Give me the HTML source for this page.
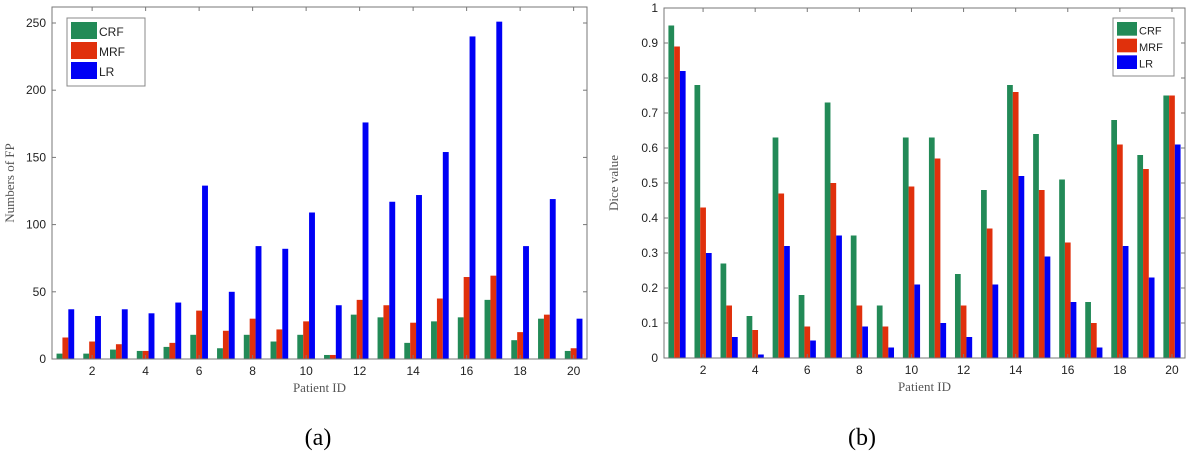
<!DOCTYPE html>
<html><head><meta charset="utf-8">
<style>
body{margin:0;background:#fff;}
svg{display:block;}
text{font-family:"Liberation Sans",sans-serif;}
</style></head>
<body>
<svg id="root" width="1200" height="451">
<text x="318" y="445" text-anchor="middle" font-size="24" style="font-family:'Liberation Serif',serif">(a)</text>
<text x="862" y="445" text-anchor="middle" font-size="24" style="font-family:'Liberation Serif',serif">(b)</text>
</svg>
<script>
const categories=[1,2,3,4,5,6,7,8,9,10,11,12,13,14,15,16,17,18,19,20];
const seriesNames=["CRF","MRF","LR"];
const fpCRF=[4,4,7,6,9,18,8,18,13,18,3,33,31,12,28,31,44,14,30,6];
const fpMRF=[16,13,11,6,12,36,21,30,22,28,3,44,40,27,45,61,62,20,33,8];
const fpLR=[37,32,37,34,42,129,50,84,82,109,40,176,117,122,154,240,251,84,119,30];
const diceCRF=[.95,.78,.27,.12,.63,.18,.73,.35,.15,.63,.63,.24,.48,.78,.64,.51,.16,.68,.58,.75];
const diceMRF=[.89,.43,.15,.08,.47,.09,.50,.15,.09,.49,.57,.15,.37,.76,.48,.33,.10,.61,.54,.75];
const diceLR=[.82,.30,.06,.01,.32,.05,.35,.09,.03,.21,.10,.06,.21,.52,.29,.16,.03,.32,.23,.61];
const fpTicks=[0,50,100,150,200,250];
const diceTicks=[0,0.1,0.2,0.3,0.4,0.5,0.6,0.7,0.8,0.9,1];
const xTicks=[2,4,6,8,10,12,14,16,18,20];
const colors=["#228a57","#e0300c","#0000f5"];
const NS="http://www.w3.org/2000/svg";
const root=document.getElementById('root');
function mk(tag,attrs,parent){const e=document.createElementNS(NS,tag);for(const k in attrs)e.setAttribute(k,attrs[k]);(parent||root).appendChild(e);return e;}
function chart(o){
  const g=mk('g',{});
  
  
  const X=v=>o.x0+(v-0.5)/20*(o.x1-o.x0);
  const Y=v=>o.y1-(v/o.ymax)*(o.y1-o.yTopVal);
  const bw=0.22;
  o.series.forEach((s,si)=>{
    s.forEach((v,i)=>{
      const c=categories[i]+(si-1)*bw;
      const r=mk('rect',{x:X(c-bw/2),y:Y(v),width:X(c+bw/2)-X(c-bw/2),height:Y(0)-Y(v),fill:colors[si]},g);
      
      
    });
  });
  const box=mk('rect',{x:o.x0,y:o.yTop,width:o.x1-o.x0,height:o.y1-o.yTop,fill:'none',stroke:'#777','stroke-width':1},g);
  
  
  o.yticks.forEach(t=>{
    mk('line',{x1:o.x0,x2:o.x0+4,y1:Y(t),y2:Y(t),stroke:'#777'},g);
    mk('line',{x1:o.x1,x2:o.x1-4,y1:Y(t),y2:Y(t),stroke:'#777'},g);
    const tx=mk('text',{x:o.x0-6,y:Y(t)+4,'text-anchor':'end','font-size':12,fill:'#222'},g);
    tx.textContent=String(t);
    
    
  });
  xTicks.forEach(t=>{
    mk('line',{x1:X(t),x2:X(t),y1:o.y1,y2:o.y1-4,stroke:'#777'},g);
    mk('line',{x1:X(t),x2:X(t),y1:o.yTop,y2:o.yTop+4,stroke:'#777'},g);
    const tx=mk('text',{x:X(t),y:o.y1+16,'text-anchor':'middle','font-size':12,fill:'#222'},g);
    tx.textContent=String(t);
    
    
  });
  const xl=mk('text',{x:(o.x0+o.x1)/2,y:o.y1+33,'text-anchor':'middle','font-size':13,fill:'#555',style:"font-family:'Liberation Serif',serif"},g);
  xl.textContent='Patient ID';
  
  
  const yl=mk('text',{x:0,y:0,'text-anchor':'middle','font-size':13,fill:'#555',style:"font-family:'Liberation Serif',serif",transform:`translate(${o.ylx},${(o.yTop+o.y1)/2}) rotate(-90)`},g);
  yl.textContent=o.ylabel;
  
  
  const L=o.legend;
  const lg=mk('g',{},g);
  
  
  mk('rect',{x:L.x,y:L.y,width:L.w,height:L.h,fill:'#fff',stroke:'#888'},lg);
  seriesNames.forEach((n,i)=>{
    const ry=L.y+4+i*(L.h-8)/3;
    const sw=mk('rect',{x:L.x+4,y:ry,width:L.sw,height:(L.h-8)/3-3,fill:colors[i]},lg);
    
    
    const t=mk('text',{x:L.x+L.sw+6,y:ry+(L.h-8)/6+4,'font-size':L.fs,fill:'#222'},lg);
    t.textContent=n;
    
    
  });
}
chart({name:'fp-chart',x0:52,x1:587,yTop:7,y1:359,yTopVal:23,ymax:250,series:[fpCRF,fpMRF,fpLR],yticks:fpTicks,ylabel:'Numbers of FP',ylx:14,legend:{x:67,y:18,w:78,h:68,sw:26,fs:12}});
chart({name:'dice-chart',x0:664,x1:1185,yTop:8,y1:358,yTopVal:8,ymax:1,series:[diceCRF,diceMRF,diceLR],yticks:diceTicks,ylabel:'Dice value',ylx:618,legend:{x:1113,y:18,w:61,h:58,sw:20,fs:11}});
</script>
</body></html>
